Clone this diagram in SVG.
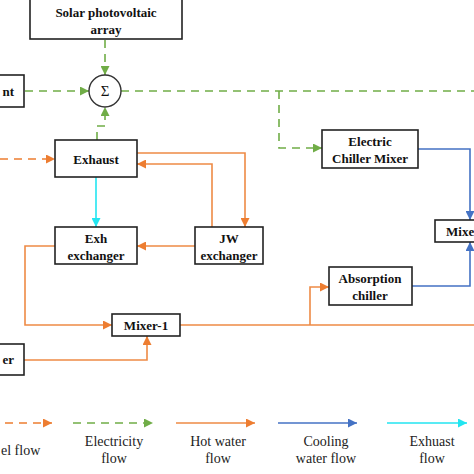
<svg xmlns="http://www.w3.org/2000/svg" width="474" height="474" viewBox="0 0 474 474">
<style>
.box{fill:#fff;stroke:#222;stroke-width:1.6}
.lbl{font-weight:bold;font-size:13px;fill:#111;text-anchor:middle}
.leg{font-size:14px;fill:#222;text-anchor:middle}
.g{fill:none;stroke:#70AD47;stroke-width:1.6;stroke-dasharray:8 6}
.fo{fill:none;stroke:#ED7D31;stroke-width:1.6;stroke-dasharray:8 6}
.o{fill:none;stroke:#EE8A45;stroke-width:1.6}
.b{fill:none;stroke:#4472C4;stroke-width:1.6}
.c{fill:none;stroke:#22E5F0;stroke-width:1.6}
</style>
<defs>
<marker id="ag" viewBox="0 0 10 10" refX="10" refY="5" markerWidth="9" markerHeight="9" markerUnits="userSpaceOnUse" orient="auto"><path d="M0,0L10,5L0,10z" fill="#70AD47"/></marker>
<marker id="ao" viewBox="0 0 10 10" refX="10" refY="5" markerWidth="9" markerHeight="9" markerUnits="userSpaceOnUse" orient="auto"><path d="M0,0L10,5L0,10z" fill="#ED7D31"/></marker>
<marker id="ab" viewBox="0 0 10 10" refX="10" refY="5" markerWidth="9" markerHeight="9" markerUnits="userSpaceOnUse" orient="auto"><path d="M0,0L10,5L0,10z" fill="#4472C4"/></marker>
<marker id="ac" viewBox="0 0 10 10" refX="10" refY="5" markerWidth="9" markerHeight="9" markerUnits="userSpaceOnUse" orient="auto"><path d="M0,0L10,5L0,10z" fill="#22E5F0"/></marker>
</defs>
<rect width="474" height="474" fill="#fff"/>
<g id="connectors">
<path class="g" d="M105,40V75" marker-end="url(#ag)"/>
<path class="g" d="M25,91H89" marker-end="url(#ag)"/>
<path class="g" d="M121,91H474"/>
<path class="g" d="M279,91V148H322" marker-end="url(#ag)"/>
<path class="g" d="M97,140V126H105V107" marker-end="url(#ag)"/>
<path class="fo" d="M0,159H55" marker-end="url(#ao)"/>
<path class="o" d="M137,153H245V227" marker-end="url(#ao)"/>
<path class="o" d="M212,227V164H137" marker-end="url(#ao)"/>
<path class="c" d="M96,177V227" marker-end="url(#ac)"/>
<path class="o" d="M195,246H137" marker-end="url(#ao)"/>
<path class="o" d="M55,246H25V325H112" marker-end="url(#ao)"/>
<path class="o" d="M24,360H147V336" marker-end="url(#ao)"/>
<path class="o" d="M180,325H474"/>
<path class="o" d="M310,325V287H329" marker-end="url(#ao)"/>
<path class="b" d="M418,149H470V220" marker-end="url(#ab)"/>
<path class="b" d="M412,286H470V242" marker-end="url(#ab)"/>
</g>
<g font-family="Liberation Serif, DejaVu Serif, serif">
<g id="solar"><rect class="box" x="30" y="-2" width="152" height="41"/><text class="lbl" x="106" y="17" font-family="Liberation Serif">Solar photovoltaic</text><text class="lbl" x="106" y="34" font-family="Liberation Serif">array</text></g>
<g id="sum"><circle cx="105" cy="91" r="16" fill="#fff" stroke="#333" stroke-width="1.4"/><text class="lbl" x="105" y="96" style="font-weight:normal;font-size:15px">Σ</text></g>
<g id="plant"><rect class="box" x="-10" y="75" width="34" height="32"/><text class="lbl" x="14" y="96" style="text-anchor:end">nt</text></g>
<g id="ecm"><rect class="box" x="322" y="130" width="96" height="38"/><text class="lbl" x="370" y="146">Electric</text><text class="lbl" x="370" y="163">Chiller Mixer</text></g>
<g id="mixer2"><rect class="box" x="435" y="220" width="60" height="22"/><text class="lbl" x="446" y="236" style="text-anchor:start">Mixe</text></g>
<g id="exhaust"><rect class="box" x="55" y="140" width="82" height="37"/><text class="lbl" x="96" y="164">Exhaust</text></g>
<g id="exh"><rect class="box" x="55" y="227" width="82" height="37"/><text class="lbl" x="96" y="243">Exh</text><text class="lbl" x="96" y="260">exchanger</text></g>
<g id="jw"><rect class="box" x="195" y="227" width="68" height="37"/><text class="lbl" x="229" y="243">JW</text><text class="lbl" x="229" y="260">exchanger</text></g>
<g id="absorption"><rect class="box" x="329" y="267" width="83" height="38"/><text class="lbl" x="370" y="283">Absorption</text><text class="lbl" x="370" y="300">chiller</text></g>
<g id="mixer1"><rect class="box" x="112" y="314" width="68" height="22"/><text class="lbl" x="146" y="330">Mixer-1</text></g>
<g id="lowbox"><rect class="box" x="-10" y="344" width="34" height="31"/><text class="lbl" x="14" y="364" style="text-anchor:end">er</text></g>
<g id="legend">
<path class="fo" d="M5,423H52" marker-end="url(#ao)"/>
<path class="g" d="M73,423H153" marker-end="url(#ag)"/>
<path class="o" d="M176,423H255" marker-end="url(#ao)"/>
<path class="b" d="M278,423H357" marker-end="url(#ab)"/>
<path class="c" d="M387,423H467" marker-end="url(#ac)"/>
<text class="leg" x="1" y="455" style="text-anchor:start">el flow</text>
<text class="leg" x="114" y="446">Electricity</text><text class="leg" x="114" y="463">flow</text>
<text class="leg" x="218" y="446">Hot water</text><text class="leg" x="218" y="463">flow</text>
<text class="leg" x="326" y="446">Cooling</text><text class="leg" x="326" y="463">water flow</text>
<text class="leg" x="432" y="446">Exhuast</text><text class="leg" x="432" y="463">flow</text>
</g>
</g>
</svg>
